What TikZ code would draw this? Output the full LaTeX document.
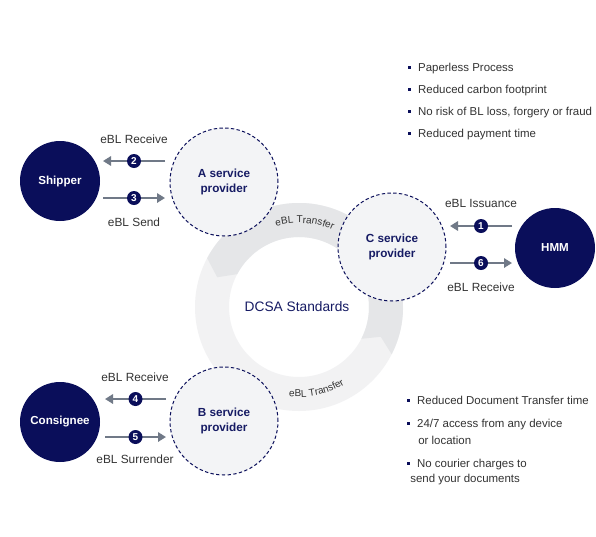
\documentclass[tikz,border=0pt]{standalone}
\usepackage{fontspec}
\setmainfont{Liberation Sans}
\usetikzlibrary{arrows.meta,decorations.text}
\definecolor{navy}{RGB}{10,14,90}
\definecolor{navytext}{RGB}{22,27,100}
\definecolor{provfill}{RGB}{243,244,246}
\definecolor{ringlight}{RGB}{242,242,243}
\definecolor{ringdark}{RGB}{229,230,232}
\definecolor{arrowgray}{RGB}{112,121,135}
\definecolor{labelgray}{RGB}{51,51,51}
\newcommand\bulletsq{\textcolor{navy}{\rule[1.6pt]{2.4pt}{2.4pt}}\hspace{5pt}}
\begin{document}
\begin{tikzpicture}[x=0.75pt,y=-0.75pt,
 party/.style={circle,fill=navy,minimum size=60pt,inner sep=0pt,text=white,font=\fontsize{8.7}{10}\selectfont\bfseries},
 provider/.style={circle,draw=navy,fill=provfill,line width=0.75pt,dash pattern=on 2.5pt off 1.8pt,minimum size=81pt,inner sep=0pt,text=navytext,align=center,font=\fontsize{8.8}{11.8}\selectfont\bfseries},
 flow/.style={draw=arrowgray,line width=1.5pt,-{Triangle[length=6pt,width=7pt]}},
 badge/.style={circle,fill=navy,text=white,minimum size=10.5pt,inner sep=0pt,font=\fontsize{7.5}{8}\selectfont\bfseries},
 lbl/.style={text=labelgray,font=\fontsize{8.9}{10}\selectfont,inner sep=0pt},
 blt/.style={anchor=base west,text=labelgray,font=\fontsize{8.6}{10}\selectfont,inner sep=0pt},
]
\useasboundingbox[fill=white] (0,0) rectangle (596,536);

% ring
\begin{scope}[shift={(299,307)},x=0.75pt,y=0.75pt]
 \fill[ringlight,even odd rule] (0,0) circle[radius=104] (0,0) circle[radius=70];
 \fill[ringdark] (-27:104) arc[start angle=-27,end angle=152,radius=104] -- (160:87) -- (152:70) arc[start angle=152,end angle=-27,radius=70] -- (-20:87) -- cycle;
 \path[decorate,decoration={text along path,text align=center,text color=labelgray,text={|\fontsize{7.5}{9}\selectfont|eBL Transfer}}] (114:84) arc[start angle=114,end angle=58,radius=84];
 \path[decorate,decoration={text along path,text align=center,text color=labelgray,text={|\fontsize{7.5}{9}\selectfont|eBL Transfer}}] (-106:90) arc[start angle=-106,end angle=-50,radius=90];
\end{scope}

\node[text=navytext,font=\fontsize{10.3}{12}\selectfont] (dcsa) at (297,307) {DCSA Standards};

% parties
\node[party] (shipper) at (60,181) {Shipper};
\node[party] (hmm) at (555,248) {HMM};
\node[party] (consignee) at (60,422) {Consignee};
\node[provider] (A) at (224,182) {A service\\provider};
\node[provider] (C) at (392,247) {C service\\provider};
\node[provider] (B) at (224,421) {B service\\provider};

% arrow ends
\coordinate (a2s) at (165,161); \coordinate (a2e) at (103,161);
\coordinate (a3s) at (103,198); \coordinate (a3e) at (165,198);
\coordinate (a1s) at (512,226); \coordinate (a1e) at (450,226);
\coordinate (a6s) at (450,263); \coordinate (a6e) at (512,263);
\coordinate (a4s) at (166,399); \coordinate (a4e) at (105,399);
\coordinate (a5s) at (105,437); \coordinate (a5e) at (166,437);

\draw[flow] (a2s) -- node[badge] (b2) {2} (a2e);
\draw[flow] (a3s) -- node[badge] (b3) {3} (a3e);
\draw[flow] (a1s) -- node[badge] (b1) {1} (a1e);
\draw[flow] (a6s) -- node[badge] (b6) {6} (a6e);
\draw[flow] (a4s) -- node[badge] (b4) {4} (a4e);
\draw[flow] (a5s) -- node[badge] (b5) {5} (a5e);

\node[lbl] (l2) at (134,139) {eBL Receive};
\node[lbl] (l3) at (134,222) {eBL Send};
\node[lbl] (l1) at (481,203) {eBL Issuance};
\node[lbl] (l6) at (481,287) {eBL Receive};
\node[lbl] (l4) at (135,377) {eBL Receive};
\node[lbl] (l5) at (135,459) {eBL Surrender};

% benefit lists
\node[blt] (t1) at (408,71) {\bulletsq Paperless Process};
\node[blt] (t2) at (408,93) {\bulletsq Reduced carbon footprint};
\node[blt] (t3) at (408,115) {\bulletsq No risk of BL loss, forgery or fraud};
\node[blt] (t4) at (408,137) {\bulletsq Reduced payment time};

\node[blt] (u1) at (407,404) {\bulletsq Reduced Document Transfer time};
\node[blt] (u2) at (407,427) {\bulletsq 24/7 access from any device};
\node[blt] (u2b) at (418,444) {or location};
\node[blt] (u3) at (407,467) {\bulletsq No courier charges to};
\node[blt] (u3b) at (410,482) {send your documents};
\end{tikzpicture}
\end{document}
